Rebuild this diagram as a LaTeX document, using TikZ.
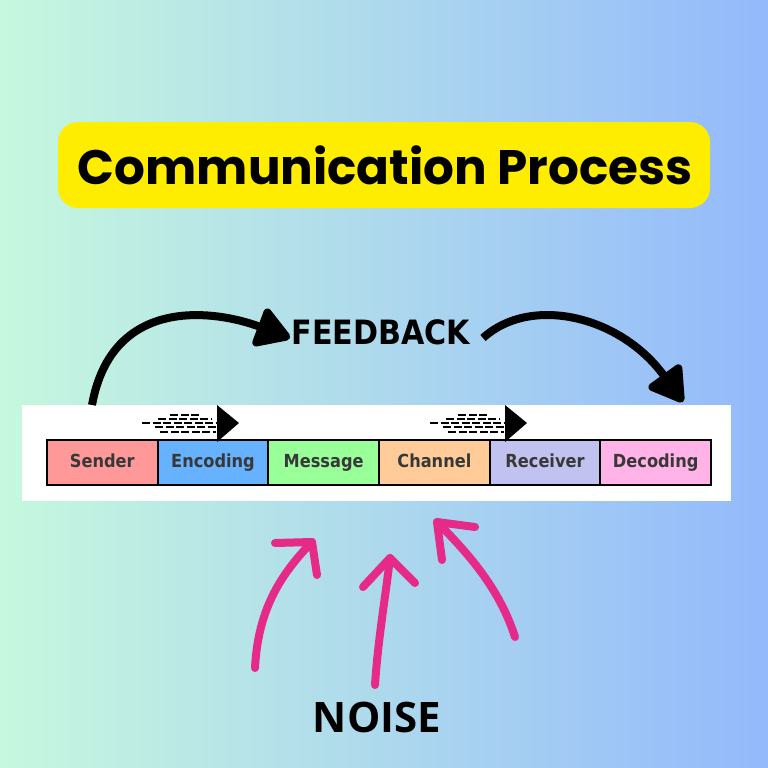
\documentclass[tikz,border=0pt]{standalone}
\usepackage{fontspec}
\usetikzlibrary{positioning,arrows.meta}
\newfontfamily\titlefont{Poppins Bold}
\newfontfamily\condfont{DejaVu Sans Condensed Bold}
\newfontfamily\noisefont{Open Sans Bold}
\definecolor{bgleft}{HTML}{C6F8DE}
\definecolor{bgright}{HTML}{94B9FC}
\definecolor{titleyellow}{HTML}{FFED00}
\definecolor{noisepink}{HTML}{E62A87}
\definecolor{labelgray}{HTML}{383838}
\definecolor{senderc}{HTML}{FF9999}
\definecolor{encodingc}{HTML}{66B2FF}
\definecolor{messagec}{HTML}{99FF99}
\definecolor{channelc}{HTML}{FFCC99}
\definecolor{receiverc}{HTML}{C2C2F0}
\definecolor{decodingc}{HTML}{FFB3E6}
\begin{document}
\begin{tikzpicture}[x=1pt, y=-1pt,
    stage/.style={draw, line width=2pt, minimum width=110.67pt, minimum height=45pt,
        inner sep=0pt, outer sep=0pt, text height=12.5pt, text depth=3.5pt,
        font=\condfont\fontsize{18}{18}\selectfont, text=labelgray},
    speedline/.style={line width=1.8pt, dash pattern=on 8pt off 2.5pt},
    feedarrow/.style={line width=8pt, -{Triangle[length=38pt, width=44pt, round]}},
    noisearrow/.style={draw=noisepink, line width=8pt, line cap=round, line join=round}]
    % Background
    \useasboundingbox (0, 0) rectangle (768, 768);
    \shade[left color=bgleft, right color=bgright] (0, 0) rectangle (768, 768);

    % Title
    \fill[titleyellow, rounded corners=20pt] (58, 122) rectangle (710, 208);
    \node (title) at (385, 165) {\titlefont\fontsize{48.4}{48.4}\selectfont Communication Process};

    % Process row
    \fill[white] (22, 405) rectangle (731, 501);
    \node[stage, fill=senderc, anchor=west] (sender) at (47, 462.5) {Sender};
    \node[stage, fill=encodingc, right=0pt of sender] (encoding) {Encoding};
    \node[stage, fill=messagec, right=0pt of encoding] (message) {Message};
    \node[stage, fill=channelc, right=0pt of message] (channel) {Channel};
    \node[stage, fill=receiverc, right=0pt of channel] (receiver) {Receiver};
    \node[stage, fill=decodingc, right=0pt of receiver] (decoding) {Decoding};

    % Speed arrows
    \foreach \bx in {217, 505} {
        \foreach \y/\xs/\xe in {415/170/200, 419/158/212, 423/142/216, 427/155/216, 432/160/216} {
            \draw[speedline] (\bx-217+\xs, \y) -- (\bx-217+\xe, \y);
        }
        \fill[black] (\bx, 405) -- (\bx+22, 423) -- (\bx, 442) -- cycle;
    }

    % Feedback
    \node[font=\condfont\fontsize{33.5}{33.5}\selectfont] (feedback) at (381, 332) {FEEDBACK};
    \coordinate (fbstart) at (92, 405);
    \coordinate (fbmid) at (290, 338);
    \coordinate (fbback) at (483, 338);
    \coordinate (fbend) at (683, 402);
    \draw[feedarrow] (fbstart) .. controls (112, 295) and (215, 310) .. (fbmid);
    \draw[feedarrow] (fbback) .. controls (530, 295) and (620, 315) .. (fbend);

    % Noise
    \node[font=\noisefont\fontsize{42}{42}\selectfont] (noise) at (377, 717) {NOISE};
    \coordinate (nlA) at (255, 668);
    \coordinate (nlB) at (312, 542);
    \coordinate (nmA) at (375, 685);
    \coordinate (nmB) at (390, 558);
    \coordinate (nrA) at (515, 637);
    \coordinate (nrB) at (437, 522);
    \draw[noisearrow] (nlA) .. controls (258, 610) and (280, 575) .. (nlB);
    \draw[noisearrow] (275, 543) -- (nlB) -- (317, 575);
    \draw[noisearrow] (nmA) .. controls (378, 640) and (385, 600) .. (nmB);
    \draw[noisearrow] (363, 587) -- (nmB) -- (415, 583);
    \draw[noisearrow] (nrA) .. controls (500, 590) and (470, 555) .. (nrB);
    \draw[noisearrow] (475, 527) -- (nrB) -- (442, 560);
\end{tikzpicture}
\end{document}
